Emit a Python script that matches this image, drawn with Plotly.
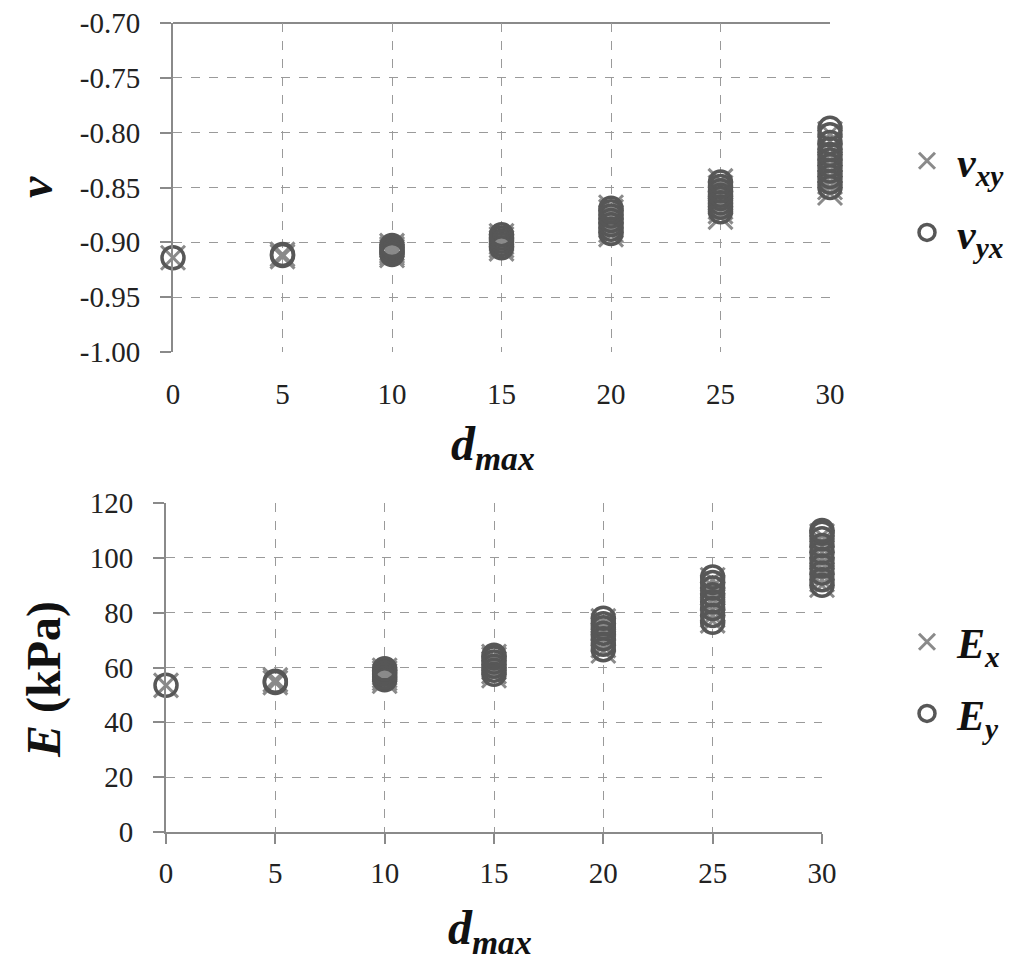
import plotly.graph_objects as go

# ---- data ----
d_ticks = [0, 5, 10, 15, 20, 25, 30]
nu_ticks = [-1.00, -0.95, -0.90, -0.85, -0.80, -0.75, -0.70]
nu_ticklabels = ["-1.00", "-0.95", "-0.90", "-0.85", "-0.80", "-0.75", "-0.70"]
E_ticks = [0, 20, 40, 60, 80, 100, 120]

# Poisson's ratio nu_xy (crosses)
nu_xy_d = [0,
           5, 5,
           10, 10, 10, 10, 10,
           15, 15, 15, 15, 15,
           20, 20, 20, 20, 20, 20, 20,
           25, 25, 25, 25, 25, 25, 25, 25,
           30, 30, 30, 30, 30, 30, 30, 30, 30, 30, 30]
nu_xy = [-0.914,
         -0.913, -0.911,
         -0.912, -0.910, -0.908, -0.906, -0.903,
         -0.906, -0.903, -0.900, -0.897, -0.894,
         -0.893, -0.889, -0.885, -0.881, -0.877, -0.872, -0.868,
         -0.877, -0.872, -0.868, -0.864, -0.860, -0.855, -0.850, -0.844,
         -0.855, -0.850, -0.845, -0.840, -0.835, -0.830, -0.825, -0.820, -0.814, -0.808, -0.801]

# Poisson's ratio nu_yx (circles)
nu_yx_d = [0,
           5, 5,
           10, 10, 10, 10, 10,
           15, 15, 15, 15, 15,
           20, 20, 20, 20, 20, 20, 20,
           25, 25, 25, 25, 25, 25, 25, 25,
           30, 30, 30, 30, 30, 30, 30, 30, 30, 30, 30]
nu_yx = [-0.914,
         -0.912, -0.911,
         -0.911, -0.909, -0.907, -0.905, -0.903,
         -0.905, -0.902, -0.899, -0.896, -0.893,
         -0.892, -0.888, -0.884, -0.880, -0.876, -0.872, -0.869,
         -0.872, -0.868, -0.864, -0.860, -0.857, -0.853, -0.849, -0.845,
         -0.850, -0.845, -0.840, -0.835, -0.830, -0.825, -0.820, -0.815, -0.809, -0.802, -0.796]

# Young's modulus E_x (crosses), kPa
E_x_d = [0,
         5, 5,
         10, 10, 10, 10, 10,
         15, 15, 15, 15, 15, 15,
         20, 20, 20, 20, 20, 20, 20,
         25, 25, 25, 25, 25, 25, 25, 25,
         30, 30, 30, 30, 30, 30, 30, 30, 30, 30]
E_x = [53.5,
       54.5, 55.5,
       55.0, 56.0, 57.0, 58.0, 59.0,
       57.0, 58.5, 60.0, 61.5, 63.0, 64.0,
       66.0, 68.0, 70.0, 72.0, 74.0, 75.5, 77.0,
       77.0, 79.0, 81.0, 83.0, 85.0, 87.0, 89.5, 92.0,
       90.0, 92.0, 94.0, 96.0, 98.0, 100.0, 102.0, 104.0, 106.0, 108.0]

# Young's modulus E_y (circles), kPa
E_y_d = [0,
         5, 5,
         10, 10, 10, 10, 10,
         15, 15, 15, 15, 15, 15,
         20, 20, 20, 20, 20, 20, 20,
         25, 25, 25, 25, 25, 25, 25, 25,
         30, 30, 30, 30, 30, 30, 30, 30, 30, 30]
E_y = [53.5,
       54.5, 55.0,
       55.5, 56.5, 57.5, 58.5, 59.5,
       57.5, 59.0, 60.5, 62.0, 63.5, 64.5,
       66.5, 68.5, 70.5, 72.5, 74.5, 76.0, 78.0,
       76.5, 79.0, 81.5, 84.0, 86.5, 89.0, 91.0, 93.0,
       90.0, 92.0, 94.5, 97.0, 99.5, 102.0, 104.5, 107.0, 109.0, 110.0]

# ---- styling ----
FONT = "Liberation Serif, Times New Roman, serif"
CROSS_COL = "#8a8a8a"
CIRC_COL = "#575757"
GRID_COL = "#9a9a9a"
AXIS_COL = "#8a8a8a"
W, H = 1019, 966


def px_x(p):
    return p / W


def px_y(p):
    return 1 - p / H


cross_marker = dict(symbol="x-thin-open", size=24, color=CROSS_COL,
                    line=dict(color=CROSS_COL, width=3))
circ_marker = dict(symbol="circle-open", size=22, color=CIRC_COL,
                   line=dict(color=CIRC_COL, width=3.5))

fig = go.Figure()
fig.add_trace(go.Scatter(x=nu_xy_d, y=nu_xy, mode="markers", name="<b><i>ν<sub>xy</sub></i></b>",
                         marker=cross_marker, xaxis="x", yaxis="y", cliponaxis=False,
                         legend="legend", legendgroup="a"))
fig.add_trace(go.Scatter(x=nu_yx_d, y=nu_yx, mode="markers", name="<b><i>ν<sub>yx</sub></i></b>",
                         marker=circ_marker, xaxis="x", yaxis="y", cliponaxis=False,
                         legend="legend", legendgroup="b"))
fig.add_trace(go.Scatter(x=E_x_d, y=E_x, mode="markers", name="<b><i>E<sub>x</sub></i></b>",
                         marker=cross_marker, xaxis="x2", yaxis="y2", cliponaxis=False,
                         legend="legend2", legendgroup="c"))
fig.add_trace(go.Scatter(x=E_y_d, y=E_y, mode="markers", name="<b><i>E<sub>y</sub></i></b>",
                         marker=circ_marker, xaxis="x2", yaxis="y2", cliponaxis=False,
                         legend="legend2", legendgroup="d"))

tickfont = dict(family=FONT, size=29, color="#222")
titlefont = dict(family=FONT, size=48, color="#111")
legfont = dict(family=FONT, size=42, color="#111")

common_x = dict(range=[0, 30], tickvals=d_ticks, showgrid=True, gridcolor=GRID_COL,
                griddash="dash", gridwidth=1.3, zeroline=False, tickfont=tickfont,
                automargin=False)
common_y = dict(showgrid=True, gridcolor=GRID_COL, griddash="dash", gridwidth=1.3,
                zeroline=False, tickfont=tickfont, showline=True, linecolor=AXIS_COL,
                linewidth=2, ticks="outside", ticklen=11, tickcolor=AXIS_COL, tickwidth=2,
                automargin=False, ticklabelstandoff=14)

fig.update_layout(
    width=W, height=H, margin=dict(l=0, r=0, t=0, b=0, autoexpand=False),
    paper_bgcolor="white", plot_bgcolor="white",
    xaxis=dict(common_x, domain=[px_x(173), px_x(830)], anchor="y", showline=False,
               ticks="", ticklabelstandoff=22),
    yaxis=dict(common_y, domain=[px_y(352), px_y(23)], anchor="x", range=[-1.0, -0.7],
               tickvals=nu_ticks, ticktext=nu_ticklabels),
    xaxis2=dict(common_x, domain=[px_x(166), px_x(822)], anchor="y2", showline=True,
                linecolor=AXIS_COL, linewidth=2, ticks="outside", ticklen=10,
                tickcolor=AXIS_COL, tickwidth=2, ticklabelstandoff=4),
    yaxis2=dict(common_y, domain=[px_y(832), px_y(503)], anchor="x2", range=[0, 120],
                tickvals=E_ticks),
    legend=dict(x=px_x(897), y=px_y(197), xanchor="left", yanchor="middle",
                font=legfont, bgcolor="rgba(0,0,0,0)", itemsizing="trace",
                tracegroupgap=14, itemwidth=50),
    legend2=dict(x=px_x(897), y=px_y(678), xanchor="left", yanchor="middle",
                 font=legfont, bgcolor="rgba(0,0,0,0)", itemsizing="trace",
                 tracegroupgap=14, itemwidth=50),
    showlegend=True,
    shapes=[dict(type="line", xref="x domain", yref="y domain", x0=0, x1=1, y0=1, y1=1,
                 line=dict(color=AXIS_COL, width=2), layer="below")],
    annotations=[
        dict(text="<b><i>d<sub>max</sub></i></b>", xref="paper", yref="paper",
             x=px_x(493), y=px_y(447), xanchor="center", yanchor="middle",
             showarrow=False, font=titlefont),
        dict(text="<b><i>d<sub>max</sub></i></b>", xref="paper", yref="paper",
             x=px_x(490), y=px_y(931), xanchor="center", yanchor="middle",
             showarrow=False, font=titlefont),
        dict(text="<b><i>ν</i></b>", xref="paper", yref="paper",
             x=px_x(36), y=px_y(187), xanchor="center", yanchor="middle",
             showarrow=False, font=titlefont, textangle=-90),
        dict(text="<b><i>E</i> (kPa)</b>", xref="paper", yref="paper",
             x=px_x(44), y=px_y(680), xanchor="center", yanchor="middle",
             showarrow=False, font=titlefont, textangle=-90),
    ],
)

fig.write_html("out.html")
